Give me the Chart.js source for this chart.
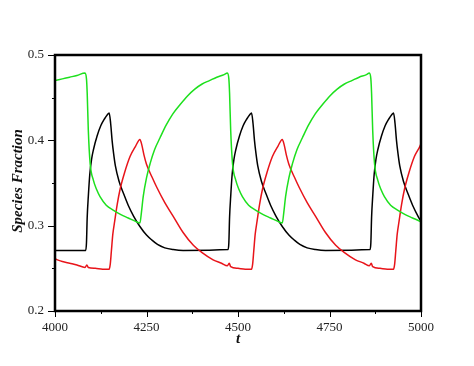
<!DOCTYPE html>
<html>
<head>
<meta charset="utf-8">
<script src="https://cdn.jsdelivr.net/npm/chart.js"></script>
<style>
  html, body { margin: 0; padding: 0; background: #fff; }
  #chart { display: block; }
</style>
</head>
<body>
<canvas id="chart" width="474" height="366"></canvas>
<script>
// --- Data ---
const xTicks = [4000, 4250, 4500, 4750, 5000];
const yTicks = [0.2, 0.3, 0.4, 0.5];

const tGreen = [4000, 4020, 4040, 4060, 4082, 4086, 4088, 4091, 4096, 4105, 4114, 4123, 4140, 4160, 4180, 4200, 4220, 4232,
  4236, 4241, 4250, 4260, 4272, 4287, 4304, 4322, 4342, 4362, 4382, 4402, 4422, 4442, 4462, 4471,
  4475, 4477, 4480, 4485, 4494, 4503, 4512, 4529, 4549, 4569, 4589, 4609, 4621,
  4625, 4630, 4639, 4649, 4661, 4676, 4693, 4711, 4731, 4751, 4771, 4791, 4811, 4831, 4851, 4859,
  4863, 4865, 4868, 4873, 4882, 4891, 4900, 4917, 4937, 4957, 4977, 4997, 5000];
const yGreen = [0.470, 0.472, 0.474, 0.476, 0.479, 0.472, 0.455, 0.412, 0.373, 0.353, 0.342, 0.334, 0.324, 0.318, 0.313, 0.309, 0.305, 0.303,
  0.315, 0.334, 0.356, 0.373, 0.389, 0.403, 0.418, 0.431, 0.442, 0.452, 0.460, 0.466, 0.470, 0.474, 0.477, 0.479,
  0.472, 0.455, 0.412, 0.373, 0.353, 0.342, 0.334, 0.324, 0.318, 0.313, 0.309, 0.305, 0.303,
  0.315, 0.334, 0.356, 0.373, 0.389, 0.403, 0.418, 0.431, 0.442, 0.452, 0.460, 0.466, 0.470, 0.474, 0.477, 0.479,
  0.472, 0.455, 0.412, 0.373, 0.353, 0.342, 0.334, 0.324, 0.318, 0.313, 0.309, 0.305, 0.304];

const tBlack = [4000, 4084, 4086, 4088, 4091, 4095, 4100, 4105, 4115, 4125, 4135, 4143, 4148, 4152, 4156, 4160, 4165, 4175, 4187,
  4200, 4215, 4232, 4250, 4265, 4280, 4300, 4323, 4350, 4473,
  4475, 4477, 4480, 4484, 4489, 4494, 4504, 4514, 4524, 4532, 4537, 4541, 4545, 4549, 4554, 4564, 4576,
  4589, 4604, 4621, 4639, 4654, 4669, 4689, 4712, 4739, 4861,
  4863, 4865, 4868, 4872, 4877, 4882, 4892, 4902, 4912, 4920, 4925, 4929, 4933, 4937, 4942, 4952, 4964, 4977, 4992, 5000];
const yBlack = [0.271, 0.271, 0.280, 0.310, 0.334, 0.360, 0.378, 0.389, 0.405, 0.417, 0.425, 0.430, 0.432, 0.420, 0.400, 0.385, 0.370, 0.352, 0.338,
  0.324, 0.311, 0.299, 0.289, 0.283, 0.278, 0.274, 0.272, 0.271, 0.272,
  0.280, 0.310, 0.334, 0.360, 0.378, 0.389, 0.405, 0.417, 0.425, 0.430, 0.432, 0.420, 0.400, 0.385, 0.370, 0.352, 0.338,
  0.324, 0.311, 0.299, 0.289, 0.283, 0.278, 0.274, 0.272, 0.271, 0.272,
  0.280, 0.310, 0.334, 0.360, 0.378, 0.389, 0.405, 0.417, 0.425, 0.430, 0.432, 0.420, 0.400, 0.385, 0.370, 0.352, 0.338, 0.324, 0.311, 0.305];

const tRed = [4000, 4020, 4040, 4060, 4082, 4087, 4091, 4110, 4130, 4148, 4151, 4154, 4158, 4163, 4170, 4178, 4190, 4205, 4220, 4232,
  4237, 4243, 4250, 4265, 4278, 4300, 4323, 4350, 4378, 4400, 4432, 4455, 4471, 4476, 4480, 4500, 4520, 4537,
  4540, 4543, 4547, 4552, 4559, 4567, 4579, 4594, 4609, 4621,
  4626, 4632, 4639, 4654, 4667, 4689, 4712, 4739, 4767, 4789, 4821, 4844, 4859, 4864, 4868, 4888, 4908, 4925,
  4928, 4931, 4935, 4940, 4947, 4955, 4967, 4982, 4997, 5000];
const yRed = [0.261, 0.258, 0.256, 0.254, 0.251, 0.254, 0.251, 0.250, 0.249, 0.249, 0.255, 0.270, 0.290, 0.305, 0.325, 0.343, 0.362, 0.381, 0.393, 0.401,
  0.395, 0.383, 0.372, 0.357, 0.345, 0.327, 0.311, 0.292, 0.277, 0.269, 0.260, 0.256, 0.253, 0.256, 0.252, 0.250, 0.249, 0.249,
  0.255, 0.270, 0.290, 0.305, 0.325, 0.343, 0.362, 0.381, 0.393, 0.401,
  0.395, 0.383, 0.372, 0.357, 0.345, 0.327, 0.311, 0.292, 0.277, 0.269, 0.260, 0.256, 0.253, 0.256, 0.252, 0.250, 0.249, 0.249,
  0.255, 0.270, 0.290, 0.305, 0.325, 0.343, 0.362, 0.381, 0.393, 0.396];

const toPoints = (ts, ys) => ts.map((t, i) => ({ x: t, y: ys[i] }));

// --- Frame, tick marks and axis titles ---
const serif = "'Liberation Serif', 'DejaVu Serif', serif";

const framePlugin = {
  id: 'frame',
  afterDraw(chart) {
    const { ctx, chartArea: a, scales } = chart;
    ctx.save();
    ctx.strokeStyle = '#000';

    // tick marks, outside the box
    ctx.lineWidth = 1;
    ctx.beginPath();
    for (let v = 4000; v <= 5000; v += 125) {
      const px = Math.round(scales.x.getPixelForValue(v)) + 0.5;
      const len = v % 250 === 0 ? 6 : 3;
      ctx.moveTo(px, a.bottom);
      ctx.lineTo(px, a.bottom + len);
    }
    for (let i = 0; i <= 6; i++) {
      const v = 0.2 + i * 0.05;
      const py = Math.round(scales.y.getPixelForValue(v)) + 0.5;
      const len = i % 2 === 0 ? 7 : 3;
      ctx.moveTo(a.left, py);
      ctx.lineTo(a.left - len, py);
    }
    ctx.stroke();

    // box
    ctx.lineWidth = 2.5;
    ctx.strokeRect(a.left, a.top, a.right - a.left, a.bottom - a.top);

    // titles
    ctx.fillStyle = '#111';
    ctx.font = "italic bold 15px " + serif;
    ctx.textAlign = 'center';
    ctx.textBaseline = 'middle';
    ctx.fillText('t', (a.left + a.right) / 2, 339);
    ctx.translate(18, (a.top + a.bottom) / 2 - 2);
    ctx.rotate(-Math.PI / 2);
    ctx.fillText('Species Fraction', 0, 0);
    ctx.restore();
  }
};

// --- Chart ---
const lineStyle = { borderWidth: 1.5, pointRadius: 0, fill: false, cubicInterpolationMode: 'monotone' };

new Chart(document.getElementById('chart'), {
  type: 'line',
  data: {
    datasets: [
      { ...lineStyle, label: 'green', data: toPoints(tGreen, yGreen), borderColor: '#1de01d' },
      { ...lineStyle, label: 'red', data: toPoints(tRed, yRed), borderColor: '#e8141a' },
      { ...lineStyle, label: 'black', data: toPoints(tBlack, yBlack), borderColor: '#000' }
    ]
  },
  options: {
    responsive: false,
    animation: false,
    layout: { padding: { left: 0, right: 53, top: 55, bottom: 0 } },
    plugins: { legend: { display: false }, tooltip: { enabled: false } },
    scales: {
      x: {
        type: 'linear',
        min: xTicks[0],
        max: xTicks[xTicks.length - 1],
        afterBuildTicks: s => { s.ticks = xTicks.map(v => ({ value: v })); },
        afterFit: s => { s.height = 55; },
        grid: { display: false, drawTicks: false },
        border: { display: false },
        ticks: { color: '#222', padding: 9, maxRotation: 0, font: { family: serif, size: 13 }, callback: v => String(v) }
      },
      y: {
        min: yTicks[0],
        max: yTicks[yTicks.length - 1],
        afterBuildTicks: s => { s.ticks = yTicks.map(v => ({ value: v })); },
        afterFit: s => { s.width = 55; },
        grid: { display: false, drawTicks: false },
        border: { display: false },
        ticks: { color: '#222', padding: 11, font: { family: serif, size: 13 }, callback: v => v.toFixed(1) }
      }
    }
  },
  plugins: [framePlugin]
});
</script>
</body>
</html>
